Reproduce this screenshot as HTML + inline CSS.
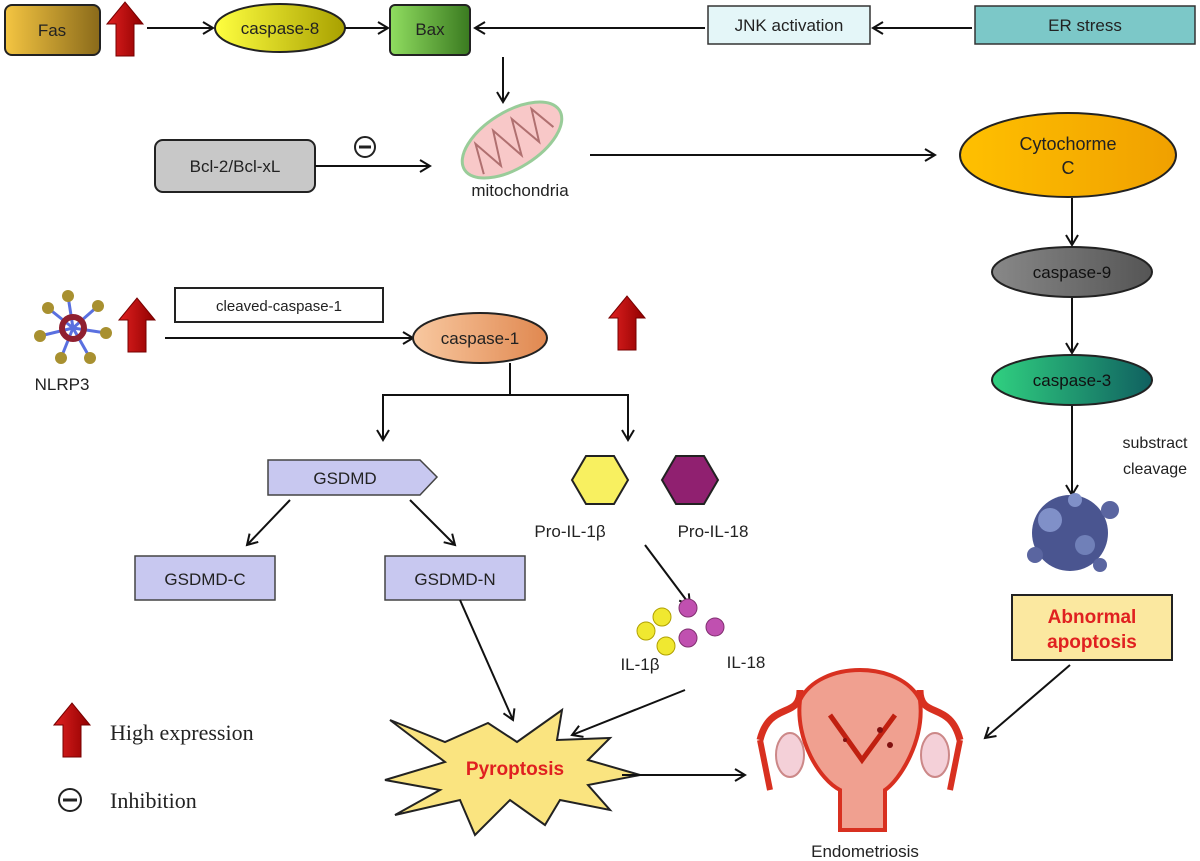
<!DOCTYPE html>
<html><head><meta charset="utf-8"><style>
html,body{margin:0;padding:0;background:#fff;}
svg{display:block;font-family:"Liberation Sans",sans-serif;}
</style></head><body>
<svg width="1200" height="861" viewBox="0 0 1200 861" xmlns="http://www.w3.org/2000/svg">
<defs>
<marker id="ah" markerWidth="14" markerHeight="14" refX="11" refY="7" orient="auto" markerUnits="userSpaceOnUse">
<path d="M1,1 L11,7 L1,13" fill="none" stroke="#111" stroke-width="2"/></marker>
<linearGradient id="gFas" x1="0" x2="1"><stop offset="0" stop-color="#f4c542"/><stop offset="1" stop-color="#8a6a1a"/></linearGradient>
<linearGradient id="gC8" x1="0" x2="1"><stop offset="0" stop-color="#ffff40"/><stop offset="1" stop-color="#a8a000"/></linearGradient>
<linearGradient id="gBax" x1="0" x2="1"><stop offset="0" stop-color="#90dd60"/><stop offset="1" stop-color="#3a7a20"/></linearGradient>
<linearGradient id="gRed" x1="0" x2="1"><stop offset="0" stop-color="#e02020"/><stop offset="1" stop-color="#900000"/></linearGradient>
<linearGradient id="gCyt" x1="0" x2="1"><stop offset="0" stop-color="#ffc000"/><stop offset="1" stop-color="#f0a000"/></linearGradient>
<linearGradient id="gC9" x1="0" x2="1"><stop offset="0" stop-color="#888"/><stop offset="1" stop-color="#555"/></linearGradient>
<linearGradient id="gC3" x1="0" x2="1"><stop offset="0" stop-color="#30d080"/><stop offset="1" stop-color="#106060"/></linearGradient>
<linearGradient id="gC1" x1="0" x2="1"><stop offset="0" stop-color="#f8c8a0"/><stop offset="1" stop-color="#e08850"/></linearGradient>
<g id="up"><path d="M-18,0 L0,-22 L18,0 L9,0 L9,32 L-9,32 L-9,0Z" fill="url(#gRed)" stroke="#700" stroke-width="1"/></g>
</defs>

<!-- top row -->
<rect x="5" y="5" width="95" height="50" rx="7" fill="url(#gFas)" stroke="#222" stroke-width="2"/>
<text x="52" y="36" font-size="17" text-anchor="middle" fill="#222">Fas</text>
<use href="#up" x="125" y="24"/>
<line x1="147" y1="28" x2="213" y2="28" stroke="#111" stroke-width="2" marker-end="url(#ah)"/>
<ellipse cx="280" cy="28" rx="65" ry="24" fill="url(#gC8)" stroke="#222" stroke-width="2"/>
<text x="280" y="34" font-size="17" text-anchor="middle" fill="#222">caspase-8</text>
<line x1="345" y1="28" x2="388" y2="28" stroke="#111" stroke-width="2" marker-end="url(#ah)"/>
<rect x="390" y="5" width="80" height="50" rx="5" fill="url(#gBax)" stroke="#222" stroke-width="2"/>
<text x="430" y="35" font-size="17" text-anchor="middle" fill="#222">Bax</text>
<line x1="705" y1="28" x2="475" y2="28" stroke="#111" stroke-width="2" marker-end="url(#ah)"/>
<rect x="708" y="6" width="162" height="38" fill="#e4f6f8" stroke="#333" stroke-width="1.5"/>
<text x="789" y="31" font-size="17" text-anchor="middle" fill="#222">JNK activation</text>
<line x1="972" y1="28" x2="873" y2="28" stroke="#111" stroke-width="2" marker-end="url(#ah)"/>
<rect x="975" y="6" width="220" height="38" fill="#7cc8c8" stroke="#333" stroke-width="1.5"/>
<text x="1085" y="31" font-size="17" text-anchor="middle" fill="#222">ER stress</text>
<line x1="503" y1="57" x2="503" y2="102" stroke="#111" stroke-width="2" marker-end="url(#ah)"/>

<!-- mitochondria -->
<g transform="translate(512,140) rotate(-32)">
<ellipse cx="0" cy="0" rx="56" ry="28" fill="#f8c8c8" stroke="#9c9" stroke-width="3"/>
<path d="M-42,14 L-33,-16 L-23,16 L-11,-18 L0,18 L11,-18 L22,16 L33,-16 L42,11" fill="none" stroke="#b07070" stroke-width="2"/>
</g>
<text x="520" y="196" font-size="17" text-anchor="middle" fill="#222">mitochondria</text>
<rect x="155" y="140" width="160" height="52" rx="8" fill="#c8c8c8" stroke="#222" stroke-width="2"/>
<text x="235" y="172" font-size="17" text-anchor="middle" fill="#222">Bcl-2/Bcl-xL</text>
<line x1="315" y1="166" x2="430" y2="166" stroke="#111" stroke-width="2" marker-end="url(#ah)"/>
<circle cx="365" cy="147" r="10" fill="#fff" stroke="#222" stroke-width="2"/>
<line x1="359" y1="147" x2="371" y2="147" stroke="#222" stroke-width="3"/>
<line x1="590" y1="155" x2="935" y2="155" stroke="#111" stroke-width="2" marker-end="url(#ah)"/>

<!-- right column -->
<ellipse cx="1068" cy="155" rx="108" ry="42" fill="url(#gCyt)" stroke="#222" stroke-width="2"/>
<text x="1068" y="150" font-size="18" text-anchor="middle" fill="#222">Cytochorme</text>
<text x="1068" y="174" font-size="18" text-anchor="middle" fill="#222">C</text>
<line x1="1072" y1="198" x2="1072" y2="245" stroke="#111" stroke-width="2" marker-end="url(#ah)"/>
<ellipse cx="1072" cy="272" rx="80" ry="25" fill="url(#gC9)" stroke="#222" stroke-width="2"/>
<text x="1072" y="278" font-size="17" text-anchor="middle" fill="#111">caspase-9</text>
<line x1="1072" y1="298" x2="1072" y2="353" stroke="#111" stroke-width="2" marker-end="url(#ah)"/>
<ellipse cx="1072" cy="380" rx="80" ry="25" fill="url(#gC3)" stroke="#222" stroke-width="2"/>
<text x="1072" y="386" font-size="17" text-anchor="middle" fill="#111">caspase-3</text>
<line x1="1072" y1="406" x2="1072" y2="495" stroke="#111" stroke-width="2" marker-end="url(#ah)"/>
<text x="1155" y="448" font-size="16" text-anchor="middle" fill="#222">substract</text>
<text x="1155" y="474" font-size="16" text-anchor="middle" fill="#222">cleavage</text>
<circle cx="1070" cy="533" r="38" fill="#4a5590"/>
<circle cx="1050" cy="520" r="12" fill="#8090c8"/><circle cx="1085" cy="545" r="10" fill="#7080b8"/>
<circle cx="1110" cy="510" r="9" fill="#5a65a0"/><circle cx="1035" cy="555" r="8" fill="#5a65a0"/>
<circle cx="1100" cy="565" r="7" fill="#5a65a0"/><circle cx="1075" cy="500" r="7" fill="#8090c8"/>
<rect x="1012" y="595" width="160" height="65" fill="#fbe8a0" stroke="#222" stroke-width="2"/>
<text x="1092" y="623" font-size="19" font-weight="bold" text-anchor="middle" fill="#e02020">Abnormal</text>
<text x="1092" y="648" font-size="19" font-weight="bold" text-anchor="middle" fill="#e02020">apoptosis</text>
<line x1="1070" y1="665" x2="985" y2="738" stroke="#111" stroke-width="2" marker-end="url(#ah)"/>

<!-- uterus -->
<g>
<path d="M760,740 C770,700 800,720 800,690 M960,740 C950,700 920,720 920,690" fill="none" stroke="#d83020" stroke-width="7"/>
<path d="M800,700 C820,660 900,660 920,700 C925,740 900,780 885,790 L885,830 L840,830 L840,790 C820,780 795,740 800,700Z" fill="#f0a090" stroke="#d83020" stroke-width="4"/>
<path d="M830,715 L862,760 L895,715" fill="none" stroke="#c02010" stroke-width="5"/>
<ellipse cx="790" cy="755" rx="14" ry="22" fill="#f4d0d8" stroke="#c88" stroke-width="2"/>
<ellipse cx="935" cy="755" rx="14" ry="22" fill="#f4d0d8" stroke="#c88" stroke-width="2"/>
<path d="M760,740 L770,790 M960,740 L950,790" stroke="#d83020" stroke-width="6"/>
<circle cx="880" cy="730" r="3" fill="#801010"/><circle cx="890" cy="745" r="3" fill="#801010"/><circle cx="845" cy="740" r="2" fill="#801010"/>
</g>
<text x="865" y="857" font-size="17" text-anchor="middle" fill="#222">Endometriosis</text>

<!-- NLRP3 -->
<g transform="translate(73,328)">
<g stroke="#5a70e0" stroke-width="3">
<line x1="0" y1="0" x2="-5" y2="-32"/><line x1="0" y1="0" x2="25" y2="-22"/><line x1="0" y1="0" x2="33" y2="5"/>
<line x1="0" y1="0" x2="17" y2="30"/><line x1="0" y1="0" x2="-12" y2="30"/><line x1="0" y1="0" x2="-33" y2="8"/><line x1="0" y1="0" x2="-25" y2="-20"/>
</g>
<g fill="#a89030"><circle cx="-5" cy="-32" r="6"/><circle cx="25" cy="-22" r="6"/><circle cx="33" cy="5" r="6"/>
<circle cx="17" cy="30" r="6"/><circle cx="-12" cy="30" r="6"/><circle cx="-33" cy="8" r="6"/><circle cx="-25" cy="-20" r="6"/></g>
<circle cx="0" cy="0" r="11" fill="none" stroke="#902030" stroke-width="6"/>
</g>
<text x="62" y="390" font-size="17" text-anchor="middle" fill="#222">NLRP3</text>
<use href="#up" x="137" y="320"/>
<rect x="175" y="288" width="208" height="34" fill="#fff" stroke="#222" stroke-width="2"/>
<text x="279" y="311" font-size="15" text-anchor="middle" fill="#222">cleaved-caspase-1</text>
<line x1="165" y1="338" x2="413" y2="338" stroke="#111" stroke-width="2" marker-end="url(#ah)"/>
<ellipse cx="480" cy="338" rx="67" ry="25" fill="url(#gC1)" stroke="#222" stroke-width="2"/>
<text x="480" y="344" font-size="17" text-anchor="middle" fill="#222">caspase-1</text>
<use href="#up" x="627" y="318"/>
<polyline points="510,363 510,395" fill="none" stroke="#111" stroke-width="2"/>
<polyline points="383,395 628,395" fill="none" stroke="#111" stroke-width="2"/>
<line x1="383" y1="394" x2="383" y2="440" stroke="#111" stroke-width="2" marker-end="url(#ah)"/>
<line x1="628" y1="394" x2="628" y2="440" stroke="#111" stroke-width="2" marker-end="url(#ah)"/>

<!-- GSDMD -->
<path d="M268,460 L420,460 L437,477 L420,495 L268,495Z" fill="#c8c8f0" stroke="#444" stroke-width="1.5"/>
<text x="345" y="484" font-size="17" text-anchor="middle" fill="#222">GSDMD</text>
<line x1="290" y1="500" x2="247" y2="545" stroke="#111" stroke-width="2" marker-end="url(#ah)"/>
<line x1="410" y1="500" x2="455" y2="545" stroke="#111" stroke-width="2" marker-end="url(#ah)"/>
<rect x="135" y="556" width="140" height="44" fill="#c8c8f0" stroke="#444" stroke-width="1.5"/>
<text x="205" y="585" font-size="17" text-anchor="middle" fill="#222">GSDMD-C</text>
<rect x="385" y="556" width="140" height="44" fill="#c8c8f0" stroke="#444" stroke-width="1.5"/>
<text x="455" y="585" font-size="17" text-anchor="middle" fill="#222">GSDMD-N</text>

<!-- hexagons -->
<polygon points="586,456 614,456 628,480 614,504 586,504 572,480" fill="#f8f060" stroke="#222" stroke-width="2"/>
<polygon points="676,456 704,456 718,480 704,504 676,504 662,480" fill="#902070" stroke="#222" stroke-width="2"/>
<text x="570" y="537" font-size="17" text-anchor="middle" fill="#222">Pro-IL-1β</text>
<text x="713" y="537" font-size="17" text-anchor="middle" fill="#222">Pro-IL-18</text>
<line x1="645" y1="545" x2="690" y2="605" stroke="#111" stroke-width="2" marker-end="url(#ah)"/>
<g fill="#f0e830" stroke="#b0a000" stroke-width="1">
<circle cx="646" cy="631" r="9"/><circle cx="662" cy="617" r="9"/><circle cx="666" cy="646" r="9"/></g>
<g fill="#c050b0" stroke="#803070" stroke-width="1">
<circle cx="688" cy="608" r="9"/><circle cx="688" cy="638" r="9"/><circle cx="715" cy="627" r="9"/></g>
<text x="640" y="670" font-size="17" text-anchor="middle" fill="#222">IL-1β</text>
<text x="746" y="668" font-size="17" text-anchor="middle" fill="#222">IL-18</text>
<line x1="460" y1="600" x2="513" y2="720" stroke="#111" stroke-width="2" marker-end="url(#ah)"/>
<line x1="685" y1="690" x2="572" y2="735" stroke="#111" stroke-width="2" marker-end="url(#ah)"/>

<!-- pyroptosis -->
<polygon points="390,720 445,742 488,723 517,742 562,710 557,740 610,738 588,760 640,775 588,785 610,810 560,800 545,825 510,800 475,835 460,800 395,815 440,790 385,780 445,762" fill="#fae480" stroke="#222" stroke-width="2"/>
<text x="515" y="775" font-size="19" font-weight="bold" text-anchor="middle" fill="#e02020">Pyroptosis</text>
<line x1="622" y1="775" x2="745" y2="775" stroke="#111" stroke-width="2" marker-end="url(#ah)"/>

<!-- legend -->
<use href="#up" x="72" y="725"/>
<text x="110" y="740" font-size="22" font-family="Liberation Serif, serif" fill="#222">High expression</text>
<circle cx="70" cy="800" r="11" fill="#fff" stroke="#222" stroke-width="2"/>
<line x1="63" y1="800" x2="77" y2="800" stroke="#222" stroke-width="3"/>
<text x="110" y="808" font-size="22" font-family="Liberation Serif, serif" fill="#222">Inhibition</text>
</svg>
</body></html>
